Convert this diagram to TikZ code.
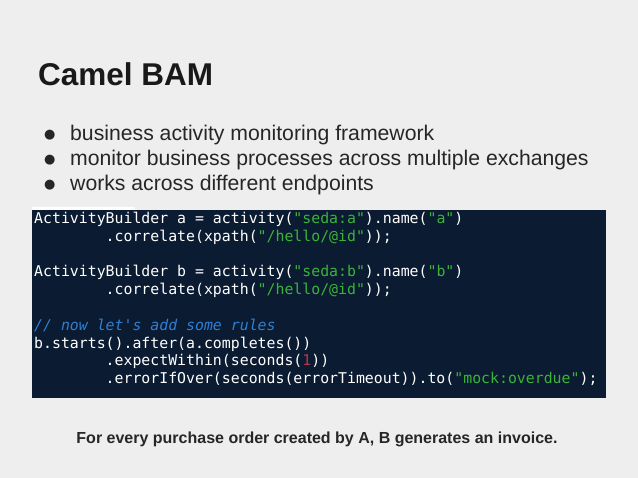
\documentclass[tikz,border=0pt]{standalone}
\usepackage{fontspec}
\setmainfont{Liberation Sans}
\newfontfamily\codefont{DejaVu Sans Mono}
\newfontfamily\dvs{DejaVu Sans}
\begin{document}
\begin{tikzpicture}[x=1pt,y=-1pt,
  bul/.style={anchor=base west,inner sep=0,font=\fontsize{21.2}{24}\selectfont,text=black!85},
  dot/.style={anchor=base west,inner sep=0,font=\dvs\fontsize{13}{15}\selectfont,text=black!85},
  code/.style={anchor=base west,inner sep=0,font=\codefont\fontsize{14.85}{17}\selectfont,text=white}]
\definecolor{bg}{HTML}{EEEEEE}
\definecolor{navy}{HTML}{0B1B31}
\definecolor{strg}{HTML}{3BB33B}
\definecolor{cmt}{HTML}{2E7FD6}
\definecolor{num}{HTML}{C0334A}
\fill[bg] (0,0) rectangle (638,478);
\useasboundingbox (0,0) rectangle (638,478);
\node[anchor=base west,inner sep=0,font=\bfseries\fontsize{31.5}{36}\selectfont,text=black!90] (title) at (38,86) {Camel BAM};
\node[dot] (b1) at (44,139) {●};
\node[bul] (t1) at (70,141) {business activity monitoring framework};
\node[dot] (b2) at (44,164) {●};
\node[bul] (t2) at (70,166) {monitor business processes across multiple exchanges};
\node[dot] (b3) at (44,189) {●};
\node[bul] (t3) at (70,191) {works across different endpoints};
\fill[white] (32,207) rectangle (135,211);
\fill[navy] (32,210) rectangle (606,398);
\node[code] (c1) at (34,224) {ActivityBuilder a = activity(\textcolor{strg}{"seda:a"}).name(\textcolor{strg}{"a"})};
\node[code] (c2) at (34,242) {\hphantom{xxxxxxxx}.correlate(xpath(\textcolor{strg}{"/hello/@id"}));};
\node[code] (c3) at (34,277) {ActivityBuilder b = activity(\textcolor{strg}{"seda:b"}).name(\textcolor{strg}{"b"})};
\node[code] (c4) at (34,295) {\hphantom{xxxxxxxx}.correlate(xpath(\textcolor{strg}{"/hello/@id"}));};
\node[code,text=cmt] (c5) at (34,331) {\itshape // now let's add some rules};
\node[code] (c6) at (34,349) {b.starts().after(a.completes())};
\node[code] (c7) at (34,366) {\hphantom{xxxxxxxx}.expectWithin(seconds(\textcolor{num}{1}))};
\node[code] (c8) at (34,384) {\hphantom{xxxxxxxx}.errorIfOver(seconds(errorTimeout)).to(\textcolor{strg}{"mock:overdue"});};
\node[anchor=base,inner sep=0,font=\bfseries\fontsize{16}{19}\selectfont,text=black!85] (foot) at (317,444) {For every purchase order created by A, B generates an invoice.};
\end{tikzpicture}
\end{document}
